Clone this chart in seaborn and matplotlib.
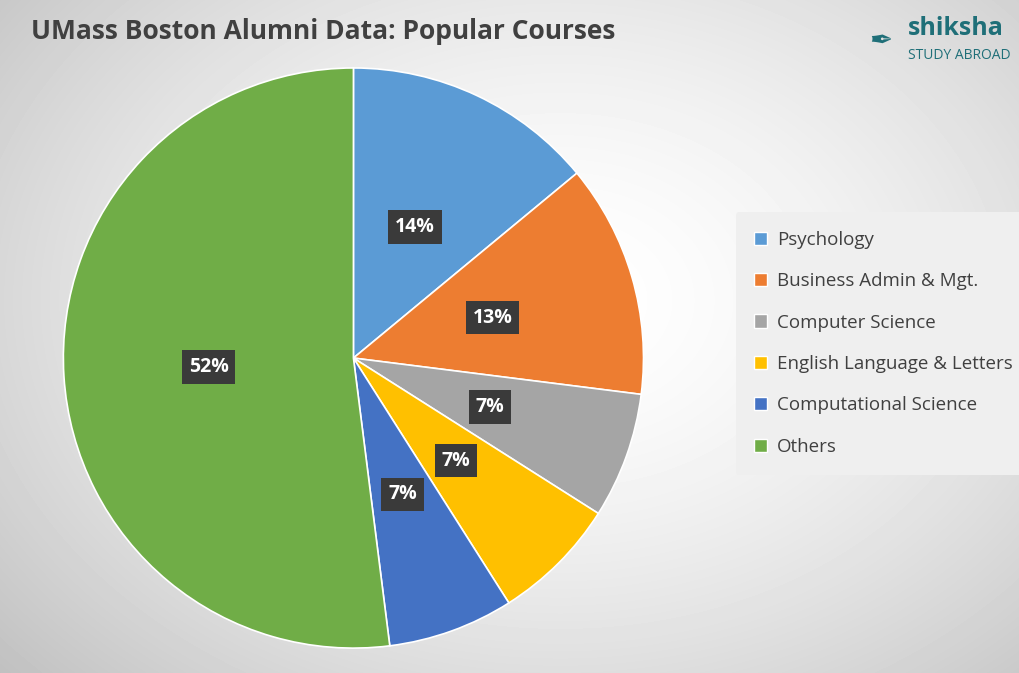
import numpy as np
import matplotlib
matplotlib.use("Agg")
import matplotlib.pyplot as plt
import seaborn as sns
from matplotlib.patches import Patch

sns.set_theme(style="white")
plt.rcParams['font.family'] = ['Open Sans', 'DejaVu Sans']

categories = ["Psychology", "Business Admin & Mgt.", "Computer Science",
              "English Language & Letters", "Computational Science", "Others"]
values = [14, 13, 7, 7, 7, 52]
colors = ["#5B9BD5", "#ED7D31", "#A5A5A5", "#FFC000", "#4472C4", "#70AD47"]

fig = plt.figure(figsize=(10.2, 6.73), dpi=100)
bg = fig.add_axes([0, 0, 1, 1])
yy, xx = np.mgrid[0:673, 0:1020]
d = np.sqrt(((xx - 560) / 700) ** 2 + ((yy - 300) / 520) ** 2)
shade = 1 - 0.22 * np.clip(d, 0, 1.2) ** 1.6
bg.imshow(shade, cmap="gray", vmin=0, vmax=1, extent=[0, 1, 0, 1], aspect="auto")
bg.axis("off")

ax = fig.add_axes([0.062, 0.037, 0.569, 0.862])
wedges, texts, autotexts = ax.pie(
    values, colors=colors, startangle=90, counterclock=False,
    autopct=lambda p: f"{p:.0f}%", pctdistance=0.5,
    wedgeprops=dict(edgecolor="white", linewidth=1.2))
for t in autotexts:
    t.set_color("white"); t.set_fontsize(14); t.set_fontweight("bold")
    t.set_bbox(dict(boxstyle="square,pad=0.35", facecolor="#3A3A3A", edgecolor="none"))
ax.set_xlim(-1, 1); ax.set_ylim(-1, 1)
ax.set_aspect("equal")

handles = [Patch(facecolor=c, label=l) for c, l in zip(colors, categories)]
leg = fig.legend(handles=handles, loc="center left", bbox_to_anchor=(0.712, 0.49),
                 fontsize=13.5, frameon=True, handlelength=0.7, handleheight=0.7,
                 labelspacing=1.25, borderpad=1.0, handletextpad=0.5)
leg.get_frame().set_facecolor("#EFEFEF"); leg.get_frame().set_edgecolor("none")
leg.get_frame().set_alpha(1)
for t in leg.get_texts():
    t.set_color("#404040")

fig.text(0.03, 0.953, "UMass Boston Alumni Data: Popular Courses", fontsize=19,
         fontweight="bold", color="#404040", va="center")
fig.text(0.89, 0.958, "shiksha", fontsize=18, fontweight="bold", color="#1F6F78", va="center")
fig.text(0.89, 0.918, "STUDY ABROAD", fontsize=10, color="#1F6F78", va="center")
fig.text(0.852, 0.94, "✒", fontsize=20, color="#1F6F78", va="center", family="DejaVu Sans")

fig.savefig("out.png", dpi=100)
